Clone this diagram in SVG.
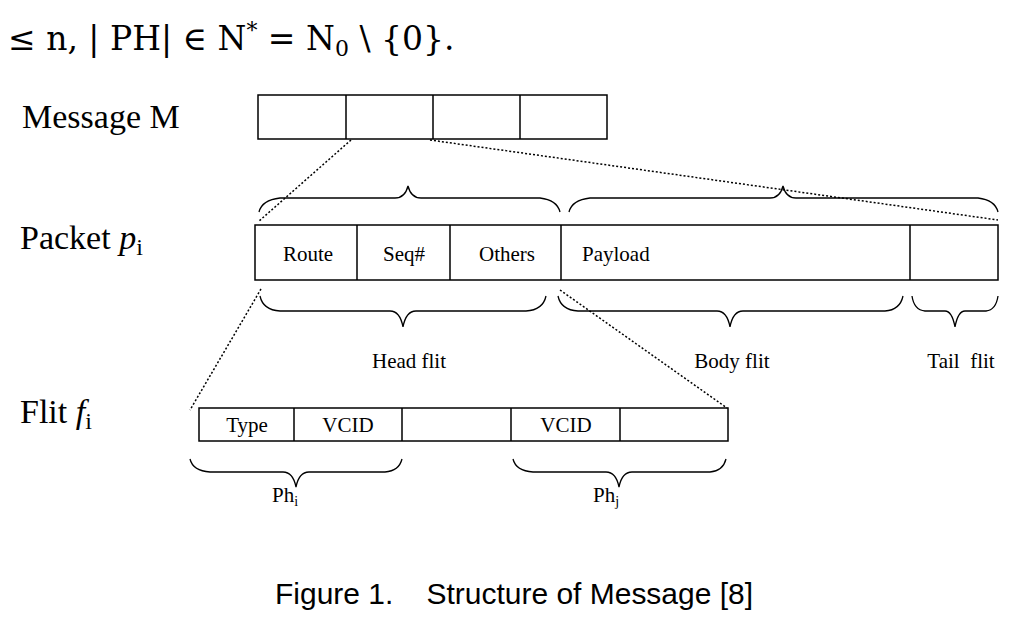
<svg xmlns="http://www.w3.org/2000/svg" width="1025" height="637" viewBox="0 0 1025 637">
<style>
.s{font-family:"Liberation Serif",serif;fill:#000}
.b{fill:none;stroke:#000;stroke-width:1.5}
.br{fill:none;stroke:#000;stroke-width:1.3}
.d{fill:none;stroke:#000;stroke-width:1.5;stroke-dasharray:2 2}
</style>
<rect width="1025" height="637" fill="#fff"/>
<text x="8" y="50" font-family="'DejaVu Serif',serif" font-size="33">≤ n, | PH| ∈ N<tspan dy="-12" font-size="22">*</tspan><tspan dy="12"> = N</tspan><tspan dy="6" font-size="22">0</tspan><tspan dy="-6"> \ {0}.</tspan></text>
<g id="message">
<text class="s" x="22" y="128" font-size="34">Message M</text>
<rect class="b" x="258" y="95" width="349" height="44"/>
<path class="b" d="M346 95V139M433 95V139M520 95V139"/>
</g>
<g id="packet">
<text class="s" x="20" y="249" font-size="34">Packet <tspan font-style="italic">p</tspan><tspan font-size="24" dy="6">i</tspan></text>
<rect class="b" x="255" y="225" width="743" height="55"/>
<path class="b" d="M357 225V280M450 225V280M561 225V280M910 225V280"/>
<g class="s" font-size="21" text-anchor="middle">
<text x="308" y="261">Route</text><text x="404" y="261">Seq#</text><text x="507" y="261">Others</text>
</g>
<text class="s" x="582" y="261" font-size="21">Payload</text>
</g>
<g id="flit">
<text class="s" x="20" y="423" font-size="34">Flit <tspan font-style="italic">f</tspan><tspan font-size="24" dy="6">i</tspan></text>
<rect class="b" x="199" y="408" width="529" height="33"/>
<path class="b" d="M294 408V441M402 408V441M511 408V441M620 408V441"/>
<g class="s" font-size="21" text-anchor="middle">
<text x="247" y="432">Type</text><text x="348" y="432">VCID</text><text x="566" y="432">VCID</text>
</g>
</g>
<g id="braces">
<path class="br" d="M259 212Q262 200 280 198H395Q405 198 408 186Q411 198 421 198H540Q557 200 560 212"/>
<path class="br" d="M569 212Q572 200 590 198H770Q780 198 783 186Q786 198 796 198H978Q995 200 998 212"/>
<path class="br" d="M260 296Q263 310 280 311H390Q400 311 403 327Q406 311 416 311H526Q543 310 546 296"/>
<path class="br" d="M558 296Q561 310 578 311H717Q727 311 730 327Q733 311 743 311H885Q900 310 903 296"/>
<path class="br" d="M912 296Q914 310 925 311H945Q952 311 955 327Q958 311 965 311H986Q996 310 998 296"/>
<path class="br" d="M190 459Q193 471 210 472H283Q293 472 296 487Q299 472 309 472H385Q399 471 402 459"/>
<path class="br" d="M513 459Q516 471 533 472H606Q616 472 619 487Q622 472 632 472H710Q723 471 726 459"/>
<g class="s" font-size="21" text-anchor="middle">
<text x="409" y="368">Head flit</text><text x="732" y="368">Body flit</text><text x="961" y="368" xml:space="preserve">Tail  flit</text>
<text x="285" y="502">Ph<tspan font-size="14" dy="4">i</tspan></text>
<text x="606" y="502">Ph<tspan font-size="14" dy="4">j</tspan></text>
</g>
</g>
<g id="connectors">
<path class="d" d="M351 140L258 222M430 140L998 220M261 289L190 410M560 290L727 408"/>
</g>
<text x="275" y="604" textLength="478" lengthAdjust="spacingAndGlyphs" font-family="'Liberation Sans',sans-serif" font-size="30" xml:space="preserve">Figure 1.    Structure of Message [8]</text>
</svg>
